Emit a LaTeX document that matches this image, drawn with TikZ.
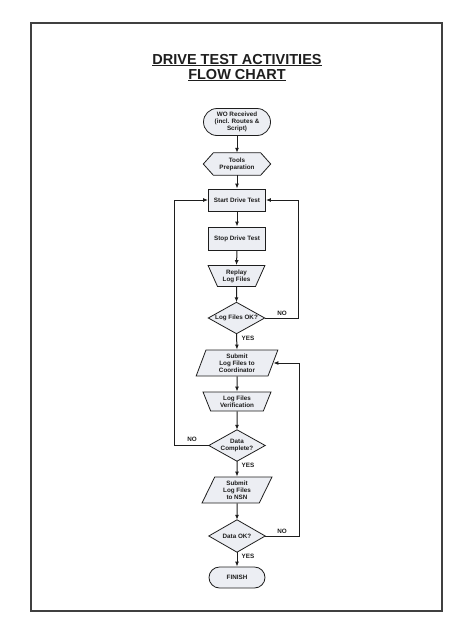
\documentclass[tikz,border=0pt]{standalone}
\usepackage{fontspec}
\setmainfont{Liberation Sans}
\usetikzlibrary{shapes.geometric,shapes.misc,arrows.meta,shadows}
\definecolor{boxfill}{HTML}{ECEEF3}
\definecolor{ink}{HTML}{1E1E1E}
\begin{document}
\begin{tikzpicture}[x=1pt,y=-1pt,
  txt/.style={font=\fontsize{6.3}{7}\selectfont\bfseries, align=center, text=ink},
  base/.style={txt, draw=ink, line width=0.8pt, fill=boxfill, inner sep=0pt},
  outline/.style={draw=ink, line width=0.8pt, fill=boxfill},
  stadium/.style={base, rounded rectangle},
  procbox/.style={base, rectangle, drop shadow={shadow xshift=0.8pt, shadow yshift=-0.8pt, fill=black!55, opacity=1}},
  trap/.style={base, trapezium, trapezium stretches=true},
  holder/.style={txt, inner sep=0pt},
  arr/.style={draw=ink, line width=1pt, -{Latex[length=5pt,width=4pt]}},
  lbl/.style={font=\fontsize{6.3}{7}\selectfont\bfseries, text=ink, inner sep=0pt},
  titlefont/.style={font=\fontsize{14.5}{16}\selectfont\bfseries, text=ink, inner sep=0pt}
]
\useasboundingbox (0,0) rectangle (474,632);
% frame
\draw[draw=black!75, line width=1.3pt] (31,23) rectangle (442,611);
% title
\node[titlefont, anchor=base] (t1) at (237,64) {\underline{DRIVE TEST ACTIVITIES}};
\node[titlefont, anchor=base] (t2) at (237,79) {\underline{FLOW CHART}};

% nodes
\node[stadium, minimum width=67pt, minimum height=27pt] (wo) at (237,122) {WO Received\\(incl. Routes \&\\Script)};
\node[holder, minimum width=67pt, minimum height=22pt] (tools) at (237,164) {};
\draw[outline] (tools.west) -- ([xshift=10pt]tools.north west) -- ([xshift=-10pt]tools.north east) -- (tools.east) -- ([xshift=-10pt]tools.south east) -- ([xshift=10pt]tools.south west) -- cycle;
\node[txt] (toolstxt) at (tools) {Tools\\Preparation};
\node[procbox, minimum width=57pt, minimum height=22pt] (start) at (237,200) {Start Drive Test};
\node[procbox, minimum width=57pt, minimum height=23pt] (stop) at (237,238.5) {Stop Drive Test};
\node[trap, trapezium left angle=118, trapezium right angle=118, minimum width=57pt, minimum height=21pt] (replay) at (236.5,276) {Replay\\Log Files};

\node[holder, minimum width=56pt, minimum height=31pt] (lfok) at (236.5,318) {};
\draw[outline] (lfok.west) -- (lfok.north) -- (lfok.east) -- (lfok.south) -- cycle;
\node[txt] (lfoktxt) at (lfok) {Log Files OK?};

\node[trap, trapezium left angle=73, trapezium right angle=107, minimum width=82pt, minimum height=26pt] (coord) at (237,363) {Submit\\Log Files to\\Coordinator};
\node[trap, trapezium left angle=113, trapezium right angle=113, minimum width=68pt, minimum height=19pt] (verif) at (237,401.5) {Log Files\\Verification};

\node[holder, minimum width=56pt, minimum height=31pt] (dc) at (237,445.5) {};
\draw[outline] (dc.west) -- (dc.north) -- (dc.east) -- (dc.south) -- cycle;
\node[txt] (dctxt) at (dc) {Data\\Complete?};

\node[trap, trapezium left angle=67, trapezium right angle=113, minimum width=70pt, minimum height=26pt] (nsn) at (237,490) {Submit\\Log Files\\to NSN};

\node[holder, minimum width=56pt, minimum height=32pt] (dok) at (237,536) {};
\draw[outline] (dok.west) -- (dok.north) -- (dok.east) -- (dok.south) -- cycle;
\node[txt] (doktxt) at (dok) {Data OK?};

\node[stadium, minimum width=56pt, minimum height=21pt] (fin) at (237,577.5) {FINISH};

% connectors
\draw[arr] (wo.south) -- (tools.north);
\draw[arr] (tools.south) -- (start.north);
\draw[arr] (start.south) -- (stop.north);
\draw[arr] (stop.south) -- (replay.north);
\draw[arr] (replay.south) -- (lfok.north);
\draw[arr] (lfok.south) -- (coord.north);
\draw[arr] (coord.south) -- (verif.north);
\draw[arr] (verif.south) -- (dc.north);
\draw[arr] (dc.south) -- (nsn.north);
\draw[arr] (nsn.south) -- (dok.north);
\draw[arr] (dok.south) -- (fin.north);
% loops
\draw[arr] (lfok.east) -- ++(34,0) |- (start.east);
\draw[arr] (dc.west) -- ++(-34,0) |- (start.west);
\draw[arr] (dok.east) -- ++(34,0) |- (coord.east);

% labels
\node[lbl] (no1) at (282,313) {NO};
\node[lbl] (yes1) at (248,338) {YES};
\node[lbl] (no2) at (192,439) {NO};
\node[lbl] (yes2) at (248,465) {YES};
\node[lbl] (no3) at (282,531) {NO};
\node[lbl] (yes3) at (248,556) {YES};
\end{tikzpicture}
\end{document}
